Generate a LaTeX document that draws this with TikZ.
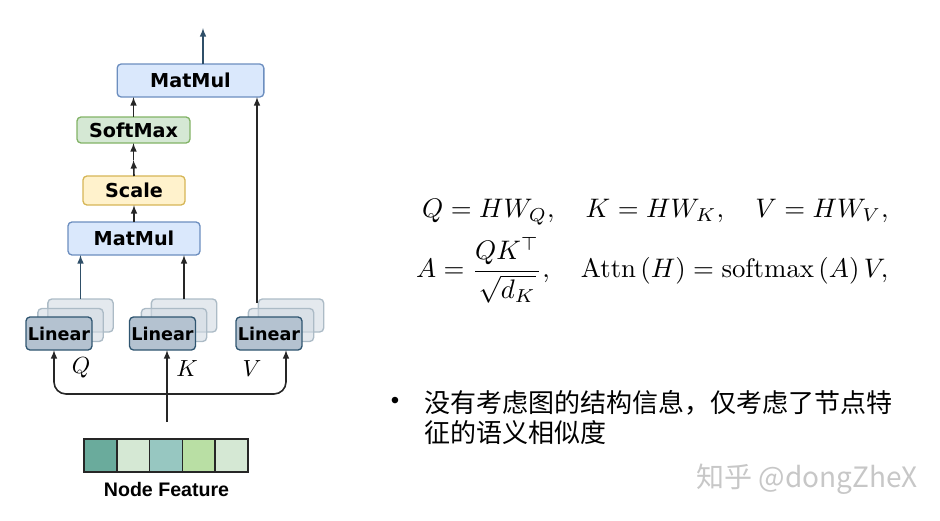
\documentclass[tikz,border=0pt]{standalone}
\usepackage{amsmath}
\usepackage[no-math]{fontspec}
\newfontfamily\labelfont{DejaVu Sans}
\newfontfamily\arialfont{Liberation Sans}
\newfontfamily\cjk{Noto Sans CJK SC}
\usetikzlibrary{positioning}
\usetikzlibrary{arrows.meta}
\definecolor{bluef}{HTML}{DAE8FC}
\definecolor{blued}{HTML}{6C8EBF}
\definecolor{greenf}{HTML}{D5E8D4}
\definecolor{greend}{HTML}{82B366}
\definecolor{yellowf}{HTML}{FFF2CC}
\definecolor{yellowd}{HTML}{D6B656}
\definecolor{slatef}{HTML}{B4C2D0}
\definecolor{slated}{HTML}{2F5570}
\definecolor{edgeblue}{HTML}{2F4F68}
\tikzset{
    mybox/.style = {rectangle, rounded corners=3pt, line width=1pt, inner sep=0pt, outer sep=0pt, align=center,font=\labelfont\bfseries\fontsize{14.4}{16}\selectfont},
    boxb/.style = {mybox, draw=blued, fill=bluef},
    boxg/.style = {mybox, draw=greend, fill=greenf},
    boxy/.style = {mybox, draw=yellowd, fill=yellowf},
    boxl/.style = {mybox, draw=slated, fill=slatef, minimum width=49.5pt, minimum height=24.75pt, font=\labelfont\bfseries\fontsize{13.2}{15}\selectfont},
    boxlb/.style = {mybox, draw=slated!40, fill=slatef!60, fill opacity=0.6, minimum width=49pt, minimum height=24.75pt},
    cell/.style = {rectangle, line width=1.1pt, draw=black!85, inner sep=0pt, outer sep=0pt, minimum width=24.6pt, minimum height=24.75pt},
    edgen/.style = {-latex,line width=1.2pt,black!85},
    edgeb/.style = {-latex,line width=1.2pt,edgeblue},
    symb/.style = {inner sep=0pt, scale=1.75},
    eqn/.style = {inner sep=0pt, anchor=east, scale=2.01},
}

\begin{document}
\begin{tikzpicture}[x=0.75pt,y=-0.75pt]
\useasboundingbox (0,0) rectangle (940,521);
%
\node[boxb, minimum width=110pt, minimum height=24.75pt] at (190.5, 80.5) (matmula) {MatMul};
\node[boxg, minimum width=84.75pt, minimum height=19.5pt] at (133.5, 130) (softmax) {SoftMax};
\node[boxy, minimum width=76.5pt, minimum height=21.75pt] at (134, 190.5) (scale) {Scale};
\node[boxb, minimum width=99pt, minimum height=24.75pt] at (134, 238.5) (matmulb) {MatMul};
%
\node[boxlb] at (80.5, 315.5) (linqc) {};
\node[boxlb] at (70.5, 325) (linqb) {};
\node[boxl] at (59, 333.5) (linq) {Linear};
\node[boxlb] at (184, 315.5) (linkc) {};
\node[boxlb] at (174, 325) (linkb) {};
\node[boxl] at (162.5, 333.5) (link) {Linear};
\node[boxlb] at (291, 315.5) (linvc) {};
\node[boxlb] at (281, 325) (linvb) {};
\node[boxl] at (269, 333.5) (linv) {Linear};
%
\node[symb] at (81, 368) (symq) {$Q$};
\node[symb] at (187, 369) (symk) {$K$};
\node[symb] at (252, 369) (symv) {$V$};
%
\node[cell, fill={rgb,255:red,106;green,171;blue,156}] at (100.4, 455.5) (cella) {};
\node[cell, fill=greenf] at (133.2, 455.5) (cellb) {};
\node[cell, fill={rgb,255:red,151;green,199;blue,193}] at (166, 455.5) (cellc) {};
\node[cell, fill={rgb,255:red,185;green,223;blue,164}] at (198.8, 455.5) (celld) {};
\node[cell, fill=greenf] at (231.6, 455.5) (celle) {};
\node[inner sep=0pt, font=\arialfont\bfseries\fontsize{14.7}{17}\selectfont] at (166.5, 489.5) (feature) {Node Feature};
%
\coordinate (outp) at (203, 28);
\coordinate (voutp) at (257, 303);
\coordinate (busq) at (54, 394);
\coordinate (busv) at (286, 394);
\coordinate (feedin) at (167, 422);
\coordinate (midp) at (133.5, 160);
%
\draw[edgeb] (matmula.north -| outp) -- (outp);
\draw[edgen] (softmax.north) -- (softmax.north |- matmula.south);
\draw[edgen] (scale.north) -- (midp);
\draw[edgen] (midp) -- (softmax.south);
\draw[edgen] (matmulb.north) -- (scale.south);
\draw[edgeb] (linqc.north) -- (linqc.north |- matmulb.south);
\draw[edgen] (linkc.north) -- (linkc.north |- matmulb.south);
\draw[edgen] (voutp) -- (voutp |- matmula.south);
\draw[edgen, latex-latex, rounded corners=9pt] (linq.south -| busq) -- (busq) -- (busv) -- (linv.south -| busv);
\draw[edgen] (feedin) -- (link.south -| feedin);
%
\node[eqn] at (889, 212) (eqa) {$Q = HW_Q,\quad K = HW_K,\quad V = HW_V,$};
\node[eqn] at (889, 270) (eqb) {$\displaystyle A = \frac{QK^\top}{\sqrt{d_K}},\quad \mathrm{Attn}\left(H\right) = \mathrm{softmax}\left(A\right)V,$};
%
\node[inner sep=0pt, font=\arialfont\fontsize{18}{20}\selectfont] at (395, 403) (bullet) {•};
\node[inner sep=0pt, anchor=north west, align=left, font=\cjk\fontsize{19.5}{22.5}\selectfont] at (424, 390) (note) {没有考虑图的结构信息，仅考虑了节点特\\征的语义相似度};
\node[inner sep=0pt, anchor=west, text=black!22, font=\cjk\fontsize{21}{25}\selectfont] at (696, 479) (mark) {知乎 @dongZheX};
%
\end{tikzpicture}
\end{document}
